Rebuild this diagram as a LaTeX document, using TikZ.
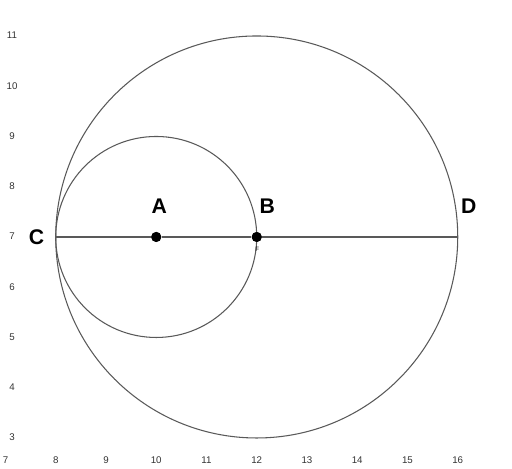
\documentclass[tikz,border=0pt]{standalone}
\usepackage{fontspec}
\setmainfont{Liberation Sans}
\begin{document}
\begin{tikzpicture}[x=1cm,y=1cm,
  geo/.style={draw=black!65, line width=0.6pt},
  pt/.style={circle, fill=black, inner sep=0pt, minimum size=0.2cm},
  ptlabel/.style={font=\fontsize{12}{14}\selectfont\bfseries, inner sep=0pt},
  ticklabel/.style={font=\fontsize{5.5}{6}\selectfont, text=black!80, inner sep=0pt}]
\useasboundingbox (6.891,2.383) rectangle (17.08,11.716);
% axis labels
\foreach \v in {3,...,11} \node[ticklabel] (ty\v) at (7.13,\v+0.01) {\v};
\foreach \v in {7,...,16} \node[ticklabel] (tx\v) at (\v,2.56) {\v};
% points
\coordinate (Cp) at (8,7);
\coordinate (Dp) at (16,7);
\node[pt] (A) at (10,7) {};
\node[pt] (B) at (12,7) {};
% circles
\draw[geo] (12,7) circle (4);
\draw[geo] (10,7) circle (2);
\draw[geo] (Cp) -- (A) -- (B) -- (Dp);
\node[pt] at (A) {};
\node[pt] at (B) {};
% labels
\node[ptlabel] (lA) at (10.06,7.61) {A};
\node[ptlabel] (lB) at (12.21,7.61) {B};
\node[ptlabel] (lC) at (7.62,7.0) {C};
\node[ptlabel] (lD) at (16.22,7.62) {D};
\node[font=\fontsize{3.5}{4}\selectfont, inner sep=0pt] (lF) at (12.01,6.76) {F};
\end{tikzpicture}
\end{document}
